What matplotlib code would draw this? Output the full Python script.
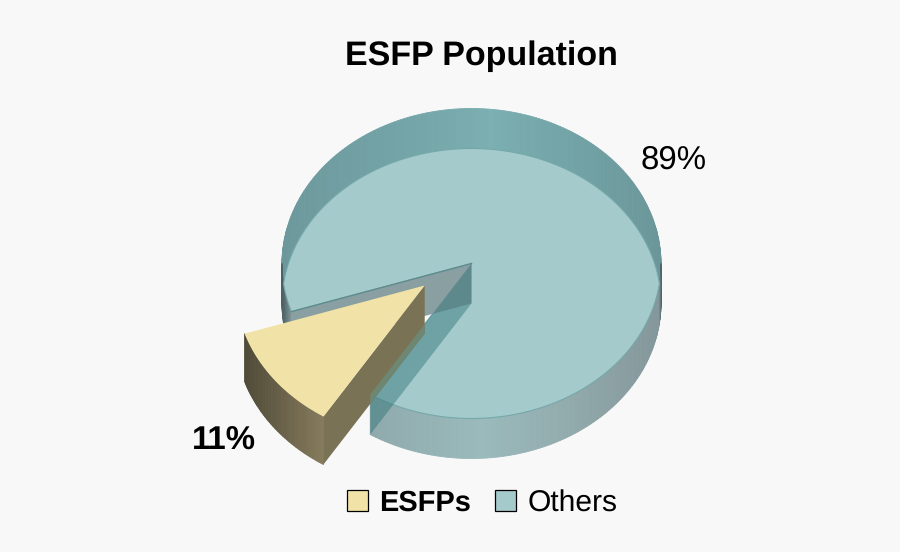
import numpy as np
import matplotlib
matplotlib.use("Agg")
import matplotlib.pyplot as plt
from matplotlib.patches import Polygon, Rectangle
from matplotlib.collections import PolyCollection
from matplotlib.colors import to_rgb

title = "ESFP Population"
categories = ["ESFPs", "Others"]
values = [11, 89]
pct_labels = ["11%", "89%"]
colors = ["#F1E3A8", "#A5CACB"]

BG = "#F8F8F8"
CX, CY, RX, RY = 471.5, 263.5, 189.5, 155.0
DEPTH = 40.0
W_DEPTH = 48.0
EXPL = (-46.8, 22.0)
START = 122.3

plt.rcParams["font.family"] = ["Liberation Sans", "DejaVu Sans"]
plt.rcParams["text.hinting"] = "no_hinting"
plt.rcParams["text.hinting_factor"] = 1
fig = plt.figure(figsize=(9, 5.52), dpi=100, facecolor=BG)
ax = fig.add_axes([0, 0, 1, 1])
ax.set_xlim(0, 900)
ax.set_ylim(552, 0)
ax.axis("off")


def pt(t, dx=0.0, dy=0.0):
    r = np.radians(t)
    return np.column_stack([CX + dx + RX * np.cos(r), CY + dy + RY * np.sin(r)])


def lerp_color(x, stops):
    xs = [s[0] for s in stops]
    cs = np.array([to_rgb(s[1]) for s in stops])
    return np.column_stack([np.interp(x, xs, cs[:, i]) for i in range(3)])


def strip(ts, stops, depth, dx=0.0, dy=0.0, z=1):
    up = pt(ts, dx, dy)
    lo = up + [0, depth]
    polys = [np.vstack([up[i], up[i + 1], lo[i + 1], lo[i]]) for i in range(len(ts) - 1)]
    mid = (up[:-1, 0] + up[1:, 0]) / 2
    cols = lerp_color(mid, stops)
    ax.add_collection(PolyCollection(polys, facecolors=cols, edgecolors=cols, linewidths=0.6, zorder=z))


span = values[0] / sum(values) * 360
T1, T2 = START, START + span

# back wall of the larger slice
back = [(CX - RX, "#6C989C"), (CX - 60, "#74A5A8"), (CX + 20, "#7BAFB1"), (CX + 120, "#70A0A3"), (CX + RX, "#6B969A")]
front = [(CX - 100, "#8FAAAC"), (CX + 10, "#9ABABC"), (CX + 90, "#93ACAE"), (CX + RX - 2.5, "#84979A"), (CX + RX, "#4C6164")]
left = [(CX - RX, "#4C6164"), (CX - RX + 10, "#879C9F")]
strip(np.linspace(180, 360, 181), back, DEPTH, z=1)
strip(np.linspace(0, T1, 123), front, DEPTH, z=1)
strip(np.linspace(T2, 180, 20), left, DEPTH, z=1)

# top surface of the larger slice
t0 = np.degrees(np.arcsin(DEPTH / 2 / RY))
surface = np.vstack([
    pt(np.linspace(t0, T1, 120)),
    [[CX, CY]],
    pt(np.linspace(T2, 180 - t0, 20)),
    pt(np.linspace(180 + t0, 360 - t0, 180), dy=DEPTH),
])
ax.add_patch(Polygon(surface, closed=True, facecolor=colors[1], edgecolor="#75A8AA", linewidth=0.8, zorder=2))

# cut face towards the small slice
p1 = pt(np.array([T2]))[0]
ax.add_patch(Polygon([[CX, CY], p1, p1 + [0, DEPTH], [CX, CY + DEPTH]], closed=True,
                     facecolor="#8A9FA1", edgecolor="none", zorder=3))
ax.plot([CX, p1[0]], [CY, p1[1]], color="#5E8C8F", lw=1.0, zorder=3.1)

# translucent cut face of the larger slice
p2 = pt(np.array([T1]))[0]
band = [[CX, CY], p2, p2 + [0, DEPTH], [CX, CY + DEPTH]]
ax.add_patch(Polygon(band, closed=True, facecolor=(33 / 255, 107 / 255, 112 / 255, 0.41),
                     edgecolor="none", zorder=3.5))

# exploded small slice
dx, dy = EXPL
tw = np.linspace(T1, T2, 50)
strip(tw, [(CX + dx + RX * np.cos(np.radians(T2)), "#4F4A38"), (CX + dx + RX * np.cos(np.radians(T1)), "#867B5C")],
      W_DEPTH, dx, dy, z=4)
apex = np.array([CX + dx, CY + dy])
p2w = pt(np.array([T1]), dx, dy)[0]
face = Polygon([apex, p2w, p2w + [0, W_DEPTH], apex + [0, W_DEPTH]], closed=True,
               facecolor="#7A7255", edgecolor="none", zorder=4)
ax.add_patch(face)
overlap = Polygon(band, closed=True, facecolor="#6E8773", edgecolor="none", zorder=4.5)
ax.add_patch(overlap)
overlap.set_clip_path(face)
ax.add_patch(Polygon(np.vstack([apex, pt(tw, dx, dy)]), closed=True,
                     facecolor=colors[0], edgecolor="none", zorder=5))

# text
ax.text(481.5, 56.5, title, fontsize=24.75, fontweight="bold", ha="center", va="center", color="black")
ax.text(674, 160.5, pct_labels[1], fontsize=23.8, ha="center", va="center", color="black")
ax.text(224, 441, pct_labels[0], fontsize=23.8, fontweight="bold", ha="center", va="center", color="black")

# legend
for x0, xt, cat, col, wt, fs in [(347.5, 379.5, categories[0], colors[0], "bold", 21.0),
                                 (495.5, 528, categories[1], colors[1], "normal", 21.3)]:
    ax.add_patch(Rectangle((x0 - 0.5, 490), 21, 21, facecolor=col, edgecolor="black", linewidth=0.9, zorder=7))
    ax.text(xt, 503.5, cat, fontsize=fs, fontweight=wt, ha="left", va="center", color="black")

fig.savefig("out.png", dpi=100, facecolor=BG)
